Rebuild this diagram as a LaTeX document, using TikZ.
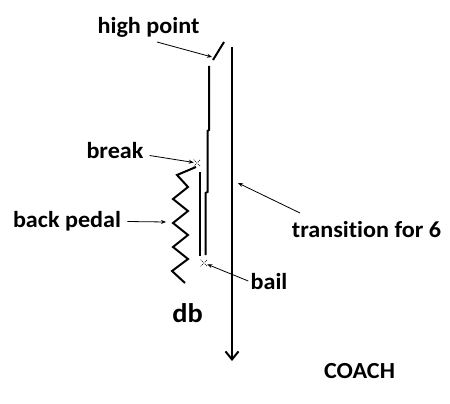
\documentclass[tikz,border=0pt]{standalone}
\usepackage{fontspec}
\setmainfont{Carlito}[Ligatures=NoCommon]
\usetikzlibrary{arrows.meta,shapes.misc}

\begin{document}
\begin{tikzpicture}[
    x=1pt, y=-1pt,
    >={Stealth[length=5pt,width=4pt]},
    lbl/.style     = {font=\bfseries\fontsize{23}{26}\selectfont, xscale=1.05, inner sep=2pt, anchor=base},
    route/.style   = {line width=2pt},
    pointer/.style = {->, line width=0.8pt, shorten <=4pt},
    xmark/.style   = {draw, cross out, line width=0.6pt, dash pattern=on 1pt off 1pt,
                      minimum size=6pt, inner sep=0pt},
  ]
	\useasboundingbox (0,0) rectangle (450,404);
	
	% Laufwege
	% Coach: lange Route mit Pfeil
	\coordinate (C1) at (232,47);
	\coordinate (C2) at (232,361);
	\draw[route, -{Straight Barb[length=8pt,width=13pt]}] (C1) -- (C2);
	
	% high point
	\draw[route] (213,60) -- (224,42);
	
	% innere Linien
	\draw[route] (209,66) -- (209,130) -- (207.5,131) -- (207.5,192) -- (205.5,193) -- (205.5,255);
	\draw[route] (200,172) -- (200,256);
	
	% back pedal (Zickzack)
	\draw[route] (196,167) -- (177,175) -- (188,187) -- (173,199) -- (188,211)
	  -- (173,223) -- (188,235) -- (173,247) -- (188,259) -- (172,271) -- (185,283);
	
	% Markierungen
	\node (brk)  at (197,163) [xmark]{};
	\node (bail) at (204,263) [xmark]{};
	
	% Beschriftungen
	\node (hpL)    at (148.5,34) [lbl]{high point};
	\node (brkL)   at (115,158)  [lbl]{break};
	\node (bpL)    at (67,227)   [lbl]{back pedal};
	\node (trL)    at (366.5,237)[lbl]{transition for 6};
	\node (bailL)  at (269,289)  [lbl]{bail};
	\node (dbL)    at (187.5,322)[lbl, font=\bfseries\fontsize{27}{30}\selectfont]{db};
	\node (coachL) at (359.5,378)[lbl]{COACH};
	
	% Hinweispfeile
	\coordinate (hpTail) at (157,42);
	\coordinate (hpTip)  at (212,57);
	\draw[pointer, shorten <=0pt] (hpTail) -- (hpTip);
	\draw[pointer] (brkL) -- (brk);
	\coordinate (bpTip) at (166,222);
	\draw[pointer] (bpL) -- (bpTip);
	\coordinate (trTail) at (300,213);
	\coordinate (trTip)  at (238,183);
	\draw[pointer, shorten <=0pt] (trTail) -- (trTip);
	\draw[pointer, shorten <=0pt] (bailL.west) -- (bail);
	
\end{tikzpicture}
\end{document}
